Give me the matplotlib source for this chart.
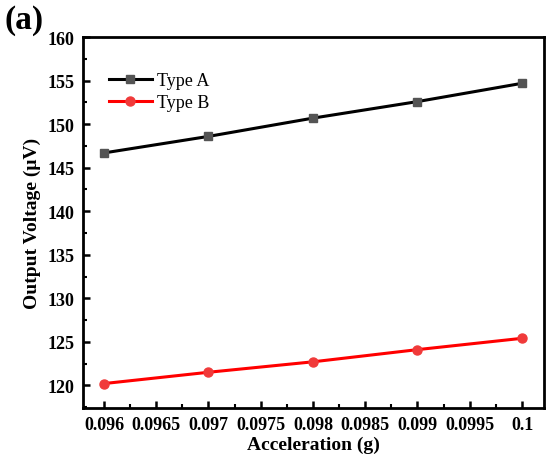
import matplotlib
matplotlib.use("Agg")
import matplotlib.pyplot as plt
from matplotlib.ticker import MultipleLocator, FuncFormatter

accel = [0.096, 0.097, 0.098, 0.099, 0.100]
type_a = [146.7, 148.6, 150.7, 152.6, 154.7]
type_b = [120.2, 121.5, 122.7, 124.1, 125.4]
series_labels = ["Type A", "Type B"]

plt.rcParams['font.family'] = ['Liberation Serif', 'DejaVu Serif']

fig = plt.figure(figsize=(5.5, 4.6), dpi=100)
ax = fig.add_axes([0.151, 0.111, 0.838, 0.806])

ax.plot(accel, type_a, color='black', lw=2.2, marker='s', ms=5.5,
        mfc=(0.33, 0.33, 0.33), mec=(0.33, 0.33, 0.33), label=series_labels[0])
ax.plot(accel, type_b, color='#ff0000', lw=2.2, marker='o', ms=6.5,
        mfc='#f03a3a', mec='#f03a3a', label=series_labels[1])

ax.set_xlim(0.0958, 0.10021)
ax.set_ylim(117.4, 160)
ax.xaxis.set_major_locator(MultipleLocator(0.0005))
ax.xaxis.set_minor_locator(MultipleLocator(0.00025))
ax.yaxis.set_major_locator(MultipleLocator(5))
ax.yaxis.set_minor_locator(MultipleLocator(2.5))

def xfmt(v, pos):
    return ('%.4f' % v).rstrip('0').rstrip('.')
ax.xaxis.set_major_formatter(FuncFormatter(xfmt))

ax.tick_params(which='both', direction='in', top=False, right=False)
ax.tick_params(which='major', length=5, width=1.8, labelsize=13, pad=6)
ax.tick_params(which='minor', length=3, width=1.5)
for lab in ax.get_xticklabels() + ax.get_yticklabels():
    lab.set_fontweight('bold')
for sp in ax.spines.values():
    sp.set_linewidth(2)

ax.set_xlabel('Acceleration (g)', fontsize=14, fontweight='bold', labelpad=2)
ax.set_ylabel('Output Voltage (μV)', fontsize=14, fontweight='bold', labelpad=5)

leg = ax.legend(loc='upper left', bbox_to_anchor=(0.028, 0.94), frameon=False,
                fontsize=13, handlelength=2.4, handletextpad=0.3, labelspacing=0.3,
                borderaxespad=0.3)

fig.text(0.008, 0.99, '(a)', fontsize=24, fontweight='bold', va='top', ha='left')

fig.savefig('out.png', dpi=100)
